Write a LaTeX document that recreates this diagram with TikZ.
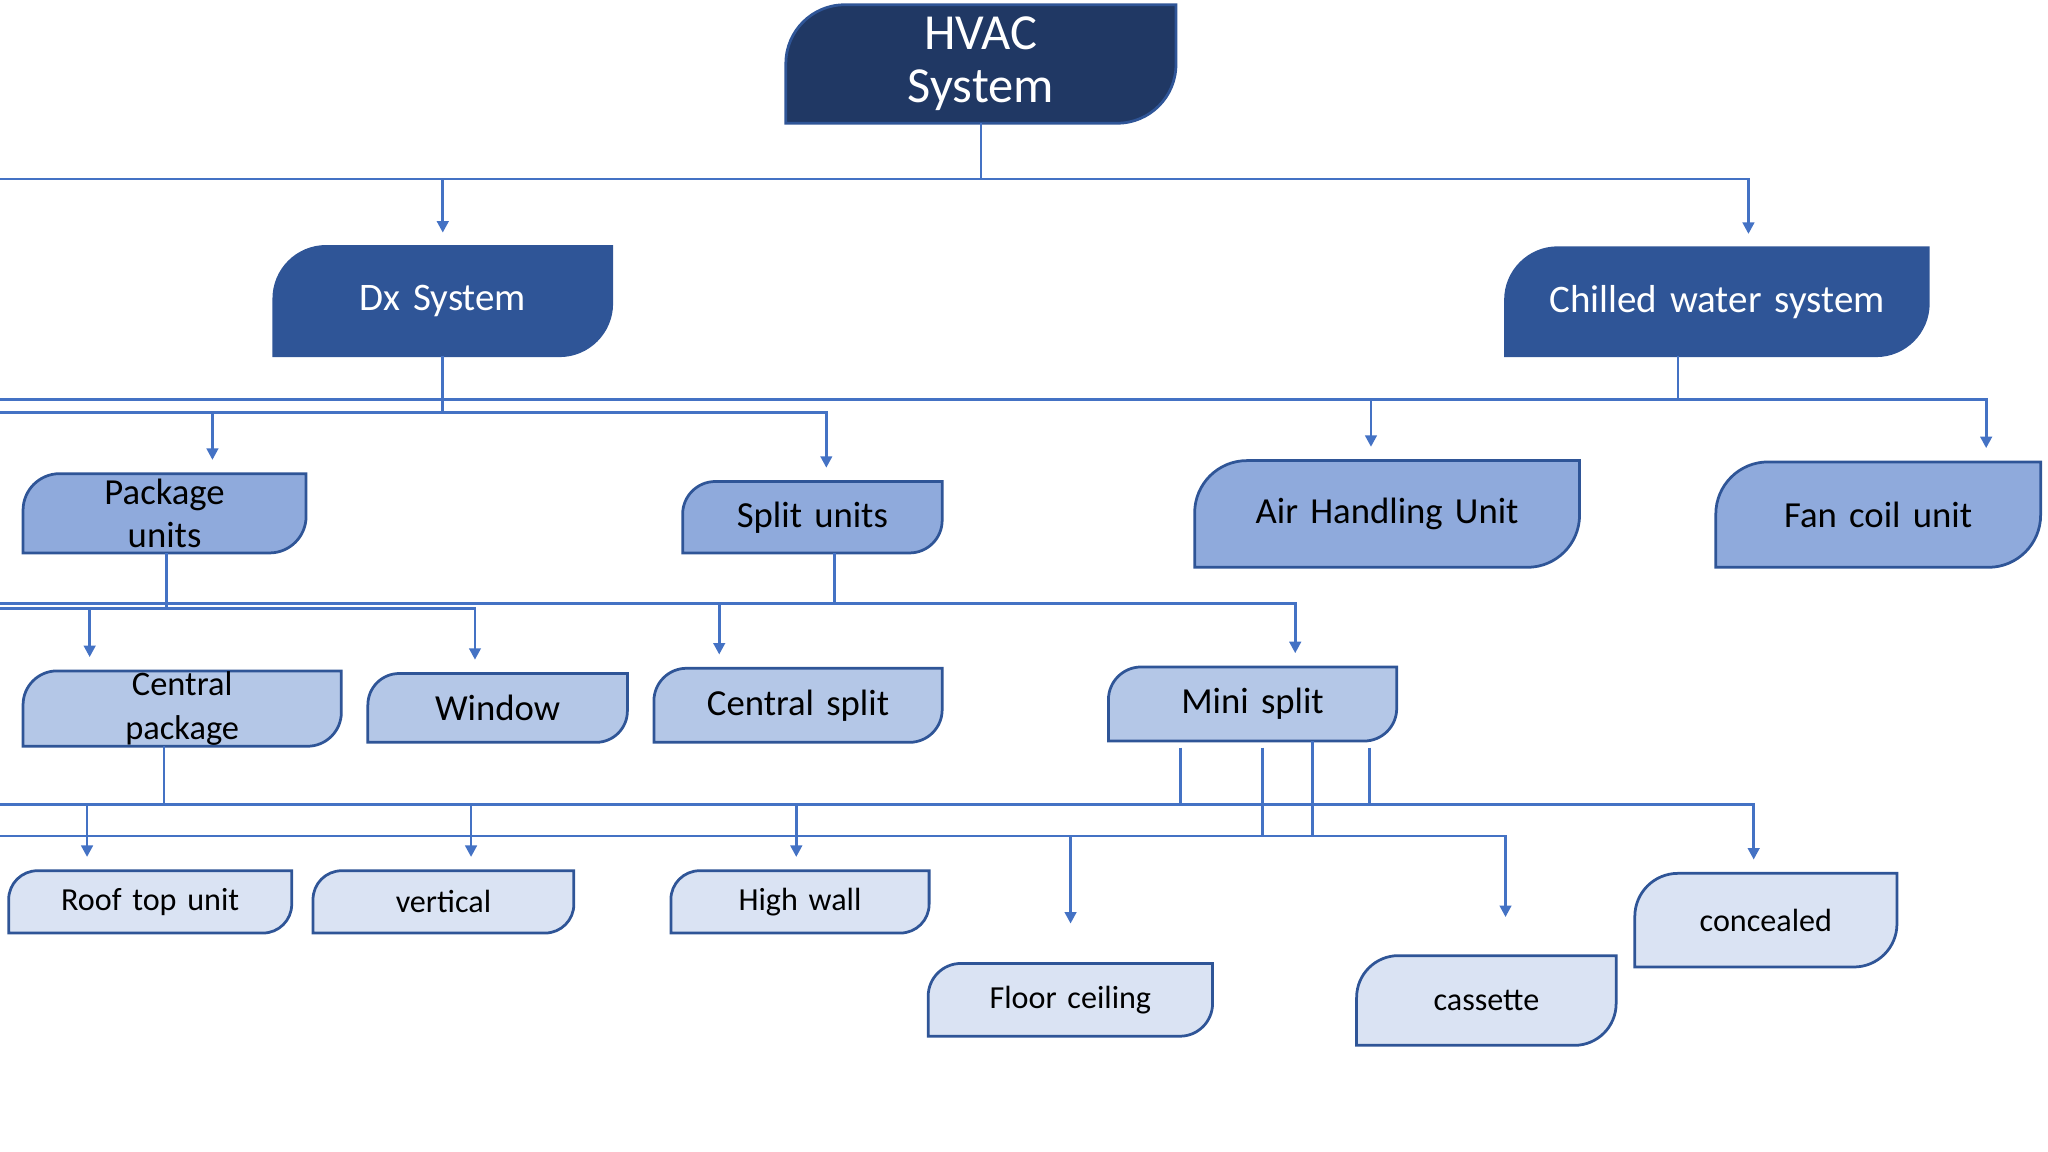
\documentclass[tikz,border=0pt]{standalone}
\usepackage{fontspec}
\setmainfont{Carlito}
\usetikzlibrary{calc,backgrounds,arrows.meta}
\definecolor{cA}{HTML}{203864}
\definecolor{cB}{HTML}{2F5597}
\definecolor{cC}{HTML}{8FAADC}
\definecolor{cD}{HTML}{B4C7E7}
\definecolor{cE}{HTML}{DAE3F3}
\definecolor{ln}{HTML}{4472C4}
\newcommand\shp[3]{\draw[bd,fill=#2] (#1.south west) -- ($(#1.north west)+(0,#3)$) arc[start angle=180,end angle=270,radius=#3] -- (#1.north east) -- ($(#1.south east)+(0,-#3)$) arc[start angle=0,end angle=90,radius=#3] -- cycle;}
\begin{document}
\begin{tikzpicture}[x=0.02cm,y=-0.02cm,
 bd/.style={draw=cB,line width=1.2pt},
 b/.style={inner sep=0pt,align=center,text width=#1*0.02cm},
 arr/.style={ln,line width=1.2pt,-{Triangle[length=5pt,width=5pt]},shorten >=6pt}]
\useasboundingbox (0,0) rectangle (1568,882);
\node[b=298,minimum width=298*0.02cm,minimum height=90*0.02cm,text=white,font=\fontsize{22}{23}\selectfont] (hvac) at (751,49) {HVAC\\System};
\node[b=258,minimum width=258*0.02cm,minimum height=83*0.02cm,text=white,font=\fontsize{17}{18}\selectfont] (dx) at (339,230.5) {Dx System};
\node[b=323,minimum width=323*0.02cm,minimum height=82*0.02cm,text=white,font=\fontsize{17}{18}\selectfont] (cw) at (1314.5,231) {Chilled water system};
\node[b=216,minimum width=216*0.02cm,minimum height=60*0.02cm,font=\fontsize{16}{19}\selectfont] (pk) at (126,393) {Package\\units};
\node[b=198,minimum width=198*0.02cm,minimum height=54*0.02cm,font=\fontsize{16}{17}\selectfont] (sp) at (622,396) {Split units};
\node[b=294,minimum width=294*0.02cm,minimum height=81*0.02cm,font=\fontsize{16}{17}\selectfont] (ahu) at (1062,393.5) {Air Handling Unit};
\node[b=248,minimum width=248*0.02cm,minimum height=80*0.02cm,font=\fontsize{16}{17}\selectfont] (fc) at (1438,394) {Fan coil unit};
\node[b=243,minimum width=243*0.02cm,minimum height=57*0.02cm,font=\fontsize{15}{19}\selectfont] (cp) at (139.5,542.5) {Central\\package};
\node[b=198,minimum width=198*0.02cm,minimum height=52*0.02cm,font=\fontsize{16}{17}\selectfont] (wi) at (381,542) {Window};
\node[b=220,minimum width=220*0.02cm,minimum height=56*0.02cm,font=\fontsize{16}{17}\selectfont] (cs) at (611,540) {Central split};
\node[b=220,minimum width=220*0.02cm,minimum height=56*0.02cm,font=\fontsize{16}{17}\selectfont] (ms) at (959,539) {Mini split};
\node[b=216,minimum width=216*0.02cm,minimum height=47*0.02cm,font=\fontsize{14}{15}\selectfont] (rt) at (115,690.5) {Roof top unit};
\node[b=199,minimum width=199*0.02cm,minimum height=47*0.02cm,font=\fontsize{14}{15}\selectfont] (ve) at (339.5,690.5) {vertical};
\node[b=197,minimum width=197*0.02cm,minimum height=47*0.02cm,font=\fontsize{14}{15}\selectfont] (hw) at (612.5,690.5) {High wall};
\node[b=217,minimum width=217*0.02cm,minimum height=55*0.02cm,font=\fontsize{14}{15}\selectfont] (fl) at (819.5,765.5) {Floor ceiling};
\node[b=198,minimum width=198*0.02cm,minimum height=68*0.02cm,font=\fontsize{14}{15}\selectfont] (ca) at (1138,766) {cassette};
\node[b=200,minimum width=200*0.02cm,minimum height=71*0.02cm,font=\fontsize{14}{15}\selectfont] (co) at (1352,704.5) {concealed};
\begin{scope}[on background layer]
\shp{hvac}{cA}{45}\shp{dx}{cB}{40}\shp{cw}{cB}{40}
\shp{pk}{cC}{28}\shp{sp}{cC}{25}\shp{ahu}{cC}{40}\shp{fc}{cC}{40}
\shp{cp}{cD}{26}\shp{wi}{cD}{24}\shp{cs}{cD}{25}\shp{ms}{cD}{25}
\shp{rt}{cE}{22}\shp{ve}{cE}{22}\shp{hw}{cE}{22}\shp{fl}{cE}{25}\shp{ca}{cE}{32}\shp{co}{cE}{33}
\end{scope}
\draw[arr] (hvac.south) |- (0,137) -| (dx.north);
\draw[arr] (hvac.south) |- (0,137) -| ($(cw.north west)+(186,0)$);
\draw[arr] (dx.south) |- (0,316) -| ($(pk.north west)+(145,0)$);
\draw[arr] (dx.south) |- (0,316) -| ($(sp.north west)+(110,0)$);
\draw[arr] ($(cw.south west)+(132,0)$) |- (0,306) -| ($(ahu.north west)+(135,0)$);
\draw[arr] ($(cw.south west)+(132,0)$) |- (0,306) -| ($(fc.north west)+(207,0)$);
\draw[arr] ($(pk.south west)+(110,0)$) |- (0,466) -| ($(cp.north west)+(51,0)$);
\draw[arr] ($(pk.south west)+(110,0)$) |- (0,466) -| ($(wi.north west)+(82,0)$);
\draw[arr] ($(sp.south west)+(116,0)$) |- (0,462) -| ($(cs.north west)+(50,0)$);
\draw[arr] ($(sp.south west)+(116,0)$) |- (0,462) -| ($(ms.north west)+(143,0)$);
\draw[arr] ($(cp.south west)+(108,0)$) |- (0,616) -| ($(rt.north west)+(60,0)$);
\draw[arr] ($(cp.south west)+(108,0)$) |- (0,616) -| ($(ve.north west)+(121,0)$);
\draw[arr] ($(ms.south west)+(55,5)$) |- (0,616) -| ($(hw.north west)+(96,0)$);
\draw[arr] ($(ms.south west)+(118,5)$) |- (0,640) -| ($(fl.north west)+(109,-20)$);
\draw[arr] ($(ms.south west)+(156,0)$) |- (0,640) -| ($(ca.north west)+(114,-19)$);
\draw[arr] ($(ms.south west)+(200,5)$) |- (0,616) -| ($(co.north west)+(91,0)$);
\end{tikzpicture}
\end{document}
